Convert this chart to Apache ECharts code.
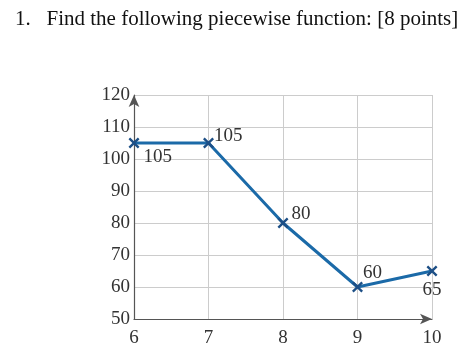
<!DOCTYPE html>
<html><head><meta charset="utf-8">
<script src="https://cdn.jsdelivr.net/npm/echarts@6/dist/echarts.min.js"></script>
<style>html,body{margin:0;padding:0;background:#fff}#c{width:474px;height:363px}</style>
</head><body><div id="c"></div>
<script>
const titleText = '1.   Find the following piecewise function: [8 points]';
const xValues = [6, 7, 8, 9, 10];
const yValues = [105, 105, 80, 60, 65];
const labelOffsets = [
  {position:'right', offset:[-1,14]},
  {position:'right', offset:[-5,-7]},
  {position:'right', offset:[-2,-9]},
  {position:'right', offset:[-5,-14]},
  {position:'bottom', offset:[0,-1]}
];
const cross = 'path://M0,1.5L1.5,0L5,3.5L8.5,0L10,1.5L6.5,5L10,8.5L8.5,10L5,6.5L1.5,10L0,8.5L3.5,5Z';
const serif = '"Liberation Serif","DejaVu Serif",serif';
const chart = echarts.init(document.getElementById('c'));
chart.setOption({
  animation:false,
  backgroundColor:'#fff',
  title:{text:titleText,left:10,top:4,textStyle:{fontFamily:serif,fontSize:21,fontWeight:'normal',color:'#111'}},
  grid:{left:134,right:42,top:95,bottom:44},
  xAxis:{type:'value',min:6,max:10,interval:1,
    axisLine:{show:true,lineStyle:{color:'#555',width:1.2},symbol:['none','arrow'],symbolSize:[8,12]},
    axisTick:{show:false},
    axisLabel:{margin:10,fontFamily:serif,fontSize:19,color:'#333'},
    splitLine:{show:true,lineStyle:{color:'#ccc',width:1}}},
  yAxis:{type:'value',min:50,max:120,interval:10,
    axisLine:{show:true,lineStyle:{color:'#555',width:1.2},symbol:['none','arrow'],symbolSize:[8,12]},
    axisTick:{show:false},
    axisLabel:{margin:4,fontFamily:serif,fontSize:19,color:'#333'},
    splitLine:{show:true,lineStyle:{color:'#ccc',width:1}}},
  series:[{
    type:'line',
    data:xValues.map((x,i)=>({value:[x,yValues[i]],label:Object.assign({show:true},labelOffsets[i])})),
    lineStyle:{color:'#1b6aa8',width:3},
    symbol:cross,symbolSize:11,
    itemStyle:{color:'#1d4f86'},
    label:{show:true,fontFamily:serif,fontSize:19,color:'#333',distance:5}
  }]
});
</script></body></html>
